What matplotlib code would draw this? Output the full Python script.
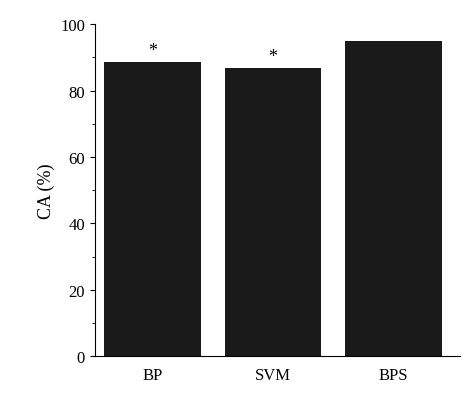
import matplotlib
matplotlib.use("Agg")
import matplotlib.pyplot as plt
from matplotlib.ticker import MultipleLocator

categories = ["BP", "SVM", "BPS"]
values = [88.5, 86.8, 94.8]
marks = ["*", "*", ""]

plt.rcParams['font.family'] = ['Liberation Serif', 'DejaVu Serif']
fig = plt.figure(figsize=(4.74, 4.06), dpi=100)
ax = fig.add_axes([0.2, 0.12, 0.77, 0.818])
x = range(len(categories))
ax.bar(x, values, width=0.8, color="#1a1a1a")
for xi, v, m in zip(x, values, marks):
    if m:
        ax.text(xi, v + 1, m, ha="center", va="bottom", fontsize=13)
ax.set_xticks(list(x))
ax.set_xticklabels(categories, fontsize=12)
ax.set_xlim(-0.48, 2.55)
ax.set_ylim(0, 100)
ax.yaxis.set_major_locator(MultipleLocator(20))
ax.yaxis.set_minor_locator(MultipleLocator(10))
ax.tick_params(axis='y', labelsize=12, direction='out')
ax.tick_params(axis='x', length=0, pad=8)
ax.set_ylabel("CA (%)", fontsize=13)
ax.spines['top'].set_visible(False)
ax.spines['right'].set_visible(False)
fig.savefig("out.png", dpi=100)
